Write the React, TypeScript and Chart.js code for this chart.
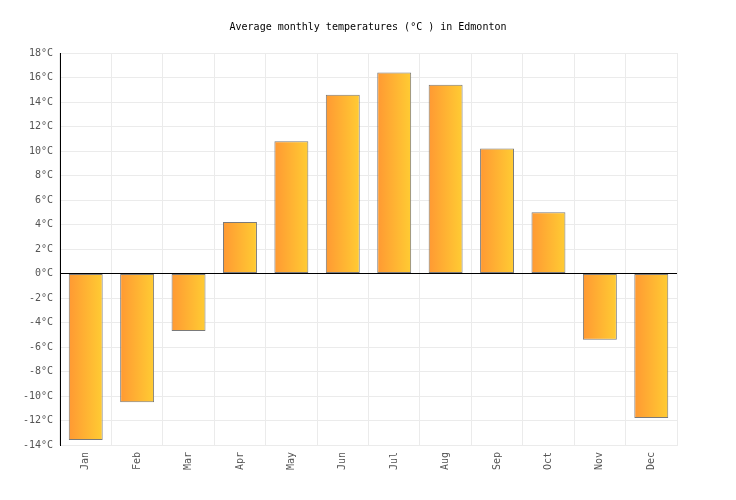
import { Chart, registerables } from "chart.js";
import { useEffect, useRef } from "react";

Chart.register(...registerables);

const months = ["Jan", "Feb", "Mar", "Apr", "May", "Jun", "Jul", "Aug", "Sep", "Oct", "Nov", "Dec"];
const avgTemps = [-13.6, -10.5, -4.7, 4.2, 10.8, 14.6, 16.4, 15.4, 10.2, 5.0, -5.4, -11.8];
const yMin = -14;
const yMax = 18;
const yStep = 2;
const titleText = "Average monthly temperatures (°C ) in Edmonton";

const FONT = "'DejaVu Sans Mono', monospace";
const BAR_PCT = 0.66;

// title centred on the whole canvas, not on the padded layout box
const pageTitle = {
  id: "pageTitle",
  afterDraw(chart: any) {
    const c = chart.ctx;
    c.save();
    c.font = `10px ${FONT}`;
    c.fillStyle = "#000";
    c.textAlign = "center";
    c.textBaseline = "middle";
    c.fillText(titleText, chart.width / 2, 27);
    c.restore();
  },
};

export default function App() {
  const chartRef = useRef<HTMLCanvasElement>(null);
  const chartInstance = useRef<Chart | null>(null);

  useEffect(() => {
    document.body.style.margin = "0";
    if (!chartRef.current) return;
    if (chartInstance.current) chartInstance.current.destroy();

    const ctx = chartRef.current.getContext("2d");
    if (!ctx) return;

    // horizontal orange -> yellow gradient per bar
    const barFill = (c: any) => {
      const chart = c.chart;
      const area = chart.chartArea;
      const xs = chart.scales?.x;
      if (!area || !xs || c.dataIndex === undefined) return "#ffb233";
      const center = xs.getPixelForValue(c.dataIndex);
      const half = ((area.right - area.left) / months.length) * BAR_PCT / 2;
      const g = chart.ctx.createLinearGradient(center - half, 0, center + half, 0);
      g.addColorStop(0, "#ff9933");
      g.addColorStop(1, "#ffcc33");
      return g;
    };

    chartInstance.current = new Chart(ctx, {
      type: "bar",
      data: {
        labels: months,
        datasets: [
          {
            label: "Temperature",
            data: avgTemps,
            backgroundColor: barFill,
            borderColor: "#7a7a7a",
            borderWidth: 1,
            borderSkipped: false,
            barPercentage: BAR_PCT,
            categoryPercentage: 1,
          },
        ],
      },
      options: {
        responsive: false,
        animation: false,
        layout: { padding: { left: 0, right: 59, top: 53, bottom: 0 } },
        plugins: {
          legend: { display: false },
          tooltip: { enabled: false },
          title: { display: false },
        },
        scales: {
          x: {
            grid: { color: "#ebebeb", drawTicks: false, offset: true },
            border: { color: "#ebebeb" },
            ticks: {
              color: "#555",
              font: { family: FONT, size: 10 },
              minRotation: 90,
              maxRotation: 90,
              padding: 7,
            },
            afterFit: (s: any) => {
              s.height = 55;
            },
          },
          y: {
            min: yMin,
            max: yMax,
            grid: {
              drawTicks: false,
              color: (c: any) => (c.tick && c.tick.value === 0 ? "#000" : "#ebebeb"),
            },
            border: { color: "#000" },
            ticks: {
              stepSize: yStep,
              color: "#555",
              font: { family: FONT, size: 10 },
              padding: 7,
              callback: (v: any) => `${v}°C`,
            },
            afterFit: (s: any) => {
              s.width = 60;
            },
          },
        },
      },
      plugins: [pageTitle],
    });

    return () => {
      if (chartInstance.current) {
        chartInstance.current.destroy();
        chartInstance.current = null;
      }
    };
  }, []);

  return (
    <div style={{ width: 736, height: 500 }}>
      <canvas ref={chartRef} width={736} height={500}></canvas>
    </div>
  );
}
